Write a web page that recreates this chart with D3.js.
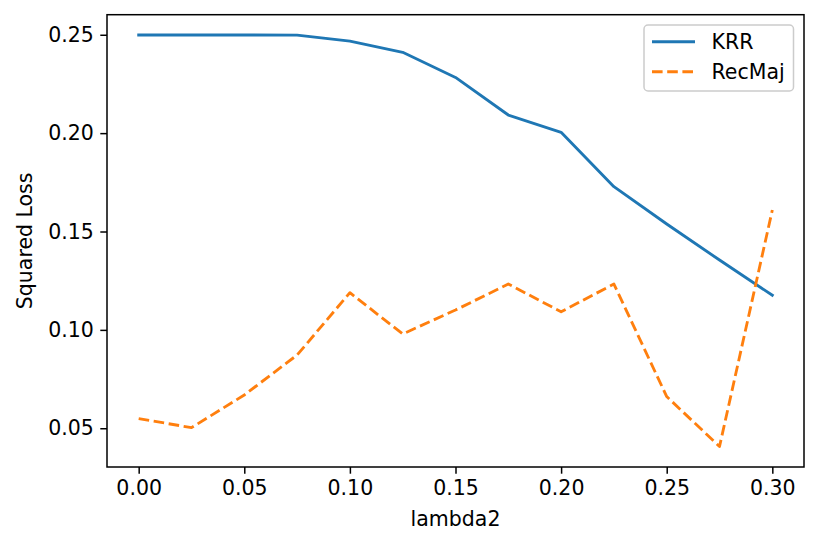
<!DOCTYPE html>
<html><head><meta charset="utf-8">
<script src="https://cdn.jsdelivr.net/npm/d3@7"></script>
<style>body{margin:0;background:#fff}svg{display:block}text{font-family:"DejaVu Sans",sans-serif;fill:#000}</style>
</head><body>
<script>
const lambdas = [0, 0.025, 0.05, 0.075, 0.1, 0.125, 0.15, 0.175, 0.2, 0.225, 0.25, 0.275, 0.3];
const krr = [0.2499, 0.2499, 0.2499, 0.2498, 0.2468, 0.2411, 0.2283, 0.2092, 0.2004, 0.1728, 0.1538, 0.1355, 0.1176];
const recMaj = [0.0549, 0.0503, 0.0669, 0.0872, 0.1189, 0.0979, 0.1101, 0.1233, 0.1092, 0.1233, 0.0661, 0.0407, 0.1609];
const xTicks = [0, 0.05, 0.1, 0.15, 0.2, 0.25, 0.3];
const yTicks = [0.05, 0.1, 0.15, 0.2, 0.25];
const seriesNames = ["KRR", "RecMaj"];
const colors = ["#1f77b4", "#ff7f0e"];

const W = 822, H = 550;
const L = 107, R = 804, T = 14.7, B = 467;
const svg = d3.select("body").append("svg").attr("width", W).attr("height", H);

const x = d3.scaleLinear().domain([-0.015, 0.315]).range([L, R]);
const y = d3.scaleLinear().domain([0.0303, 0.2602]).range([B, T]);

const fs = 20.5;
const xAxis = svg.append("g").attr("transform", `translate(0,${B})`)
  .call(d3.axisBottom(x).tickValues(xTicks).tickFormat(d3.format(".2f")).tickSize(6.7).tickPadding(6.5));
const yAxis = svg.append("g").attr("transform", `translate(${L},0)`)
  .call(d3.axisLeft(y).tickValues(yTicks).tickFormat(d3.format(".2f")).tickSize(6.7).tickPadding(6.5));
[xAxis, yAxis].forEach(g => {
  g.attr("font-size", null).attr("font-family", null);
  g.select(".domain").remove();
  g.selectAll(".tick line").attr("stroke", "#000").attr("stroke-width", 1.5);
  g.selectAll(".tick text").style("font-size", fs + "px").style("font-family", "'DejaVu Sans'").attr("fill", "#000");
});

const line = d3.line().x((d, i) => x(lambdas[i])).y(d => y(d));
svg.append("path").datum(krr).attr("d", line).attr("fill", "none")
  .attr("stroke", colors[0]).attr("stroke-width", 2.85).attr("stroke-linecap", "square").attr("stroke-linejoin", "round");
svg.append("path").datum(recMaj).attr("d", line).attr("fill", "none")
  .attr("stroke", colors[1]).attr("stroke-width", 2.85).attr("stroke-dasharray", "10.6,4.6").attr("stroke-linejoin", "round");

svg.append("rect").attr("x", L).attr("y", T).attr("width", R - L).attr("height", B - T)
  .attr("fill", "none").attr("stroke", "#000").attr("stroke-width", 1.5);

svg.append("text").attr("x", (L + R) / 2).attr("y", 526).attr("text-anchor", "middle").style("font-size", fs + "px").text("lambda2");
svg.append("text").attr("transform", `translate(32,${(T + B) / 2}) rotate(-90)`).attr("text-anchor", "middle").style("font-size", fs + "px").text("Squared Loss");

// legend
const lg = svg.append("g");
lg.append("rect").attr("x", 644).attr("y", 25).attr("width", 149.5).attr("height", 66).attr("rx", 4)
  .attr("fill", "#fff").attr("fill-opacity", 0.8).attr("stroke", "#cccccc").attr("stroke-width", 1.5);
const ly = [41.7, 71.7];
seriesNames.forEach((n, i) => {
  lg.append("line").attr("x1", 652).attr("x2", 695).attr("y1", ly[i]).attr("y2", ly[i])
    .attr("stroke", colors[i]).attr("stroke-width", 2.85)
    .attr("stroke-dasharray", i === 1 ? "10.6,4.6" : null);
  lg.append("text").attr("x", 711.5).attr("y", ly[i]).attr("dy", "0.35em").style("font-size", fs + "px").text(n);
});
</script>
</body></html>
